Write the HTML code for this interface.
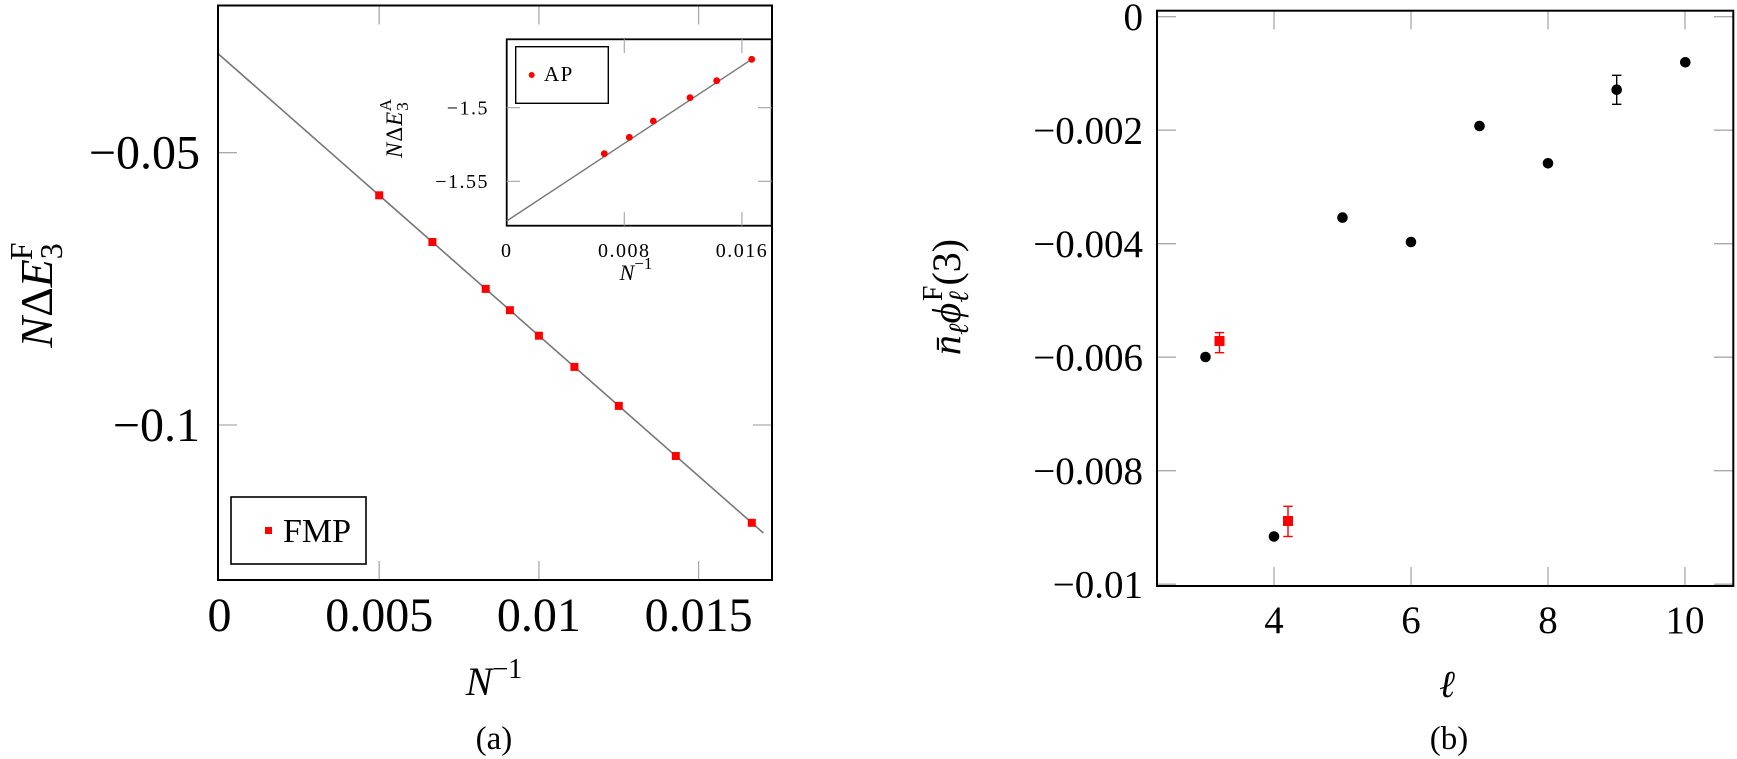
<!DOCTYPE html>
<html><head><meta charset="utf-8"><style>
html,body{margin:0;padding:0;background:#fff;}
svg{display:block;font-family:"Liberation Serif",serif;}
</style></head><body>
<svg width="1737" height="759" viewBox="0 0 1737 759" xmlns="http://www.w3.org/2000/svg">
<!-- LEFT PLOT -->
<g stroke="#aaa" stroke-width="1.3">
 <line x1="379.2" y1="580" x2="379.2" y2="561"/><line x1="538.9" y1="580" x2="538.9" y2="561"/><line x1="698.6" y1="580" x2="698.6" y2="561"/>
 <line x1="379.2" y1="5.5" x2="379.2" y2="24.5"/><line x1="538.9" y1="5.5" x2="538.9" y2="24.5"/><line x1="698.6" y1="5.5" x2="698.6" y2="24.5"/>
 <line x1="218" y1="152.7" x2="237" y2="152.7"/><line x1="218" y1="425" x2="237" y2="425"/>
 <line x1="772" y1="152.7" x2="753" y2="152.7"/><line x1="772" y1="425" x2="753" y2="425"/>
</g>
<line x1="218" y1="53.6" x2="763.4" y2="533" stroke="#777" stroke-width="1.6"/>
<g fill="#f00">
 <rect x="375.2" y="191.3" width="8" height="8"/><rect x="428.4" y="238" width="8" height="8"/>
 <rect x="481.7" y="284.9" width="8" height="8"/><rect x="505.9" y="306.2" width="8" height="8"/>
 <rect x="534.9" y="331.7" width="8" height="8"/><rect x="570.4" y="362.9" width="8" height="8"/>
 <rect x="614.8" y="401.9" width="8" height="8"/><rect x="671.8" y="452" width="8" height="8"/>
 <rect x="747.8" y="518.8" width="8" height="8"/>
</g>
<rect x="218" y="5.5" width="554" height="574.5" fill="none" stroke="#000" stroke-width="2"/>
<!-- FMP legend -->
<rect x="231" y="497" width="135" height="67" fill="#fff" stroke="#000" stroke-width="1.6"/>
<rect x="265" y="527" width="7" height="7" fill="#f00"/>
<text x="283" y="542" font-size="34">FMP</text>
<!-- inset -->
<rect x="506.7" y="39.3" width="265" height="186.4" fill="#fff" stroke="#000" stroke-width="1.8"/>
<g stroke="#aaa" stroke-width="1.2">
 <line x1="624.3" y1="225.7" x2="624.3" y2="212"/><line x1="741.9" y1="225.7" x2="741.9" y2="212"/>
 <line x1="624.3" y1="39.3" x2="624.3" y2="53"/><line x1="741.9" y1="39.3" x2="741.9" y2="53"/>
 <line x1="506.7" y1="107.7" x2="520" y2="107.7"/><line x1="506.7" y1="181.3" x2="520" y2="181.3"/>
 <line x1="771.7" y1="107.7" x2="758" y2="107.7"/><line x1="771.7" y1="181.3" x2="758" y2="181.3"/>
</g>
<line x1="506.7" y1="221" x2="751.7" y2="59.3" stroke="#777" stroke-width="1.4"/>
<g fill="#f00">
 <circle cx="604.3" cy="153.7" r="3.4"/><circle cx="629.3" cy="137.3" r="3.4"/><circle cx="653.3" cy="121" r="3.4"/>
 <circle cx="690" cy="97.7" r="3.4"/><circle cx="716.7" cy="80.7" r="3.4"/><circle cx="751.7" cy="59.3" r="3.4"/>
</g>
<rect x="515.7" y="46.7" width="92.6" height="56.6" fill="#fff" stroke="#000" stroke-width="1.4"/>
<circle cx="531.7" cy="75" r="3" fill="#f00"/>
<text x="544" y="81" font-size="21" letter-spacing="1.5">AP</text>
<g font-size="20" letter-spacing="1.5">
 <text x="489" y="114.5" text-anchor="end">−1.5</text>
 <text x="489" y="188" text-anchor="end">−1.55</text>
 <text x="506.7" y="257" text-anchor="middle">0</text>
 <text x="624.3" y="257" text-anchor="middle">0.008</text>
 <text x="742" y="257" text-anchor="middle">0.016</text>
</g>
<text x="636" y="280" font-size="22" text-anchor="middle"><tspan font-style="italic">N</tspan><tspan font-size="17" dy="-11">−1</tspan></text>
<text transform="translate(402,128) rotate(-90)" font-size="23" text-anchor="middle" letter-spacing="1"><tspan font-style="italic">N</tspan>Δ<tspan font-style="italic">E</tspan><tspan font-size="17" dy="6">3</tspan><tspan font-size="17" dx="-10" dy="-17">A</tspan></text>
<!-- left tick labels -->
<g font-size="48">
 <text x="200" y="168.7" text-anchor="end">−0.05</text>
 <text x="200" y="441" text-anchor="end">−0.1</text>
 <text x="219.5" y="631" text-anchor="middle">0</text>
 <text x="379.2" y="631" text-anchor="middle">0.005</text>
 <text x="538.9" y="631" text-anchor="middle">0.01</text>
 <text x="698.6" y="631" text-anchor="middle">0.015</text>
</g>
<text x="494" y="695" font-size="40" text-anchor="middle"><tspan font-style="italic">N</tspan><tspan font-size="28" dy="-17">−1</tspan></text>
<text transform="translate(52,295) rotate(-90)" font-size="46" text-anchor="middle"><tspan font-style="italic">N</tspan>Δ<tspan font-style="italic">E</tspan><tspan font-size="32" dy="10">3</tspan><tspan font-size="32" dx="-17" dy="-30">F</tspan></text>
<text x="494" y="749" font-size="33" text-anchor="middle">(a)</text>

<!-- RIGHT PLOT -->
<g stroke="#aaa" stroke-width="1.3">
 <line x1="1274" y1="586" x2="1274" y2="567"/><line x1="1411" y1="586" x2="1411" y2="567"/><line x1="1548" y1="586" x2="1548" y2="567"/><line x1="1685" y1="586" x2="1685" y2="567"/>
 <line x1="1274" y1="10.7" x2="1274" y2="29.5"/><line x1="1411" y1="10.7" x2="1411" y2="29.5"/><line x1="1548" y1="10.7" x2="1548" y2="29.5"/><line x1="1685" y1="10.7" x2="1685" y2="29.5"/>
 <line x1="1157" y1="16.7" x2="1176" y2="16.7"/><line x1="1157" y1="130.2" x2="1176" y2="130.2"/><line x1="1157" y1="243.7" x2="1176" y2="243.7"/><line x1="1157" y1="357.2" x2="1176" y2="357.2"/><line x1="1157" y1="470.7" x2="1176" y2="470.7"/><line x1="1157" y1="584.2" x2="1176" y2="584.2"/>
 <line x1="1733" y1="16.7" x2="1714" y2="16.7"/><line x1="1733" y1="130.2" x2="1714" y2="130.2"/><line x1="1733" y1="243.7" x2="1714" y2="243.7"/><line x1="1733" y1="357.2" x2="1714" y2="357.2"/><line x1="1733" y1="470.7" x2="1714" y2="470.7"/><line x1="1733" y1="584.2" x2="1714" y2="584.2"/>
</g>
<rect x="1157" y="10.7" width="576.3" height="575.3" fill="none" stroke="#000" stroke-width="2"/>
<g fill="#000">
 <circle cx="1205.5" cy="357" r="5.3"/><circle cx="1274" cy="536.5" r="5.3"/><circle cx="1342.5" cy="217.6" r="5.3"/>
 <circle cx="1411" cy="242" r="5.3"/><circle cx="1479.5" cy="126" r="5.3"/><circle cx="1548" cy="163.3" r="5.3"/>
 <circle cx="1616.7" cy="89.7" r="5.3"/><circle cx="1685.3" cy="62.3" r="5.3"/>
</g>
<g stroke="#000" stroke-width="1.4">
 <line x1="1616.7" y1="75.3" x2="1616.7" y2="104.3"/><line x1="1612" y1="75.3" x2="1621.4" y2="75.3"/><line x1="1612" y1="104.3" x2="1621.4" y2="104.3"/>
</g>
<g stroke="#f00" stroke-width="1.4">
 <line x1="1219.5" y1="332.6" x2="1219.5" y2="352.7"/><line x1="1214.8" y1="332.6" x2="1224.2" y2="332.6"/><line x1="1214.8" y1="352.7" x2="1224.2" y2="352.7"/>
 <line x1="1288" y1="506.3" x2="1288" y2="536.5"/><line x1="1283.3" y1="506.3" x2="1292.7" y2="506.3"/><line x1="1283.3" y1="536.5" x2="1292.7" y2="536.5"/>
</g>
<g fill="#f00">
 <rect x="1214.5" y="336" width="10" height="10"/>
 <rect x="1283" y="516" width="10" height="10"/>
</g>
<g font-size="39">
 <text x="1143" y="30" text-anchor="end">0</text>
 <text x="1143" y="143.5" text-anchor="end">−0.002</text>
 <text x="1143" y="257" text-anchor="end">−0.004</text>
 <text x="1143" y="370.5" text-anchor="end">−0.006</text>
 <text x="1143" y="484" text-anchor="end">−0.008</text>
 <text x="1143" y="597.5" text-anchor="end">−0.01</text>
 <text x="1274" y="633" text-anchor="middle">4</text>
 <text x="1411" y="633" text-anchor="middle">6</text>
 <text x="1548" y="633" text-anchor="middle">8</text>
 <text x="1685" y="633" text-anchor="middle">10</text>
</g>
<text x="1447" y="697" font-size="38" font-style="italic" text-anchor="middle">ℓ</text>
<text transform="translate(960,297) rotate(-90)" font-size="40" text-anchor="middle"><tspan font-style="italic">n̄</tspan><tspan font-size="28" font-style="italic" dy="8">ℓ</tspan><tspan font-style="italic" dy="-8">ϕ</tspan><tspan font-size="28" font-style="italic" dy="8">ℓ</tspan><tspan font-size="28" dx="-10" dy="-26">F</tspan><tspan dy="18">(3)</tspan></text>
<text x="1449" y="749" font-size="33" text-anchor="middle">(b)</text>
</svg>
</body></html>
